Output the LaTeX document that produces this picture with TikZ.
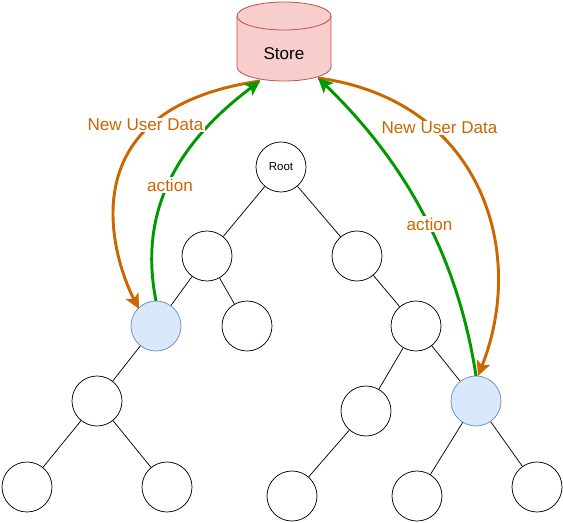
\documentclass[tikz,border=0pt]{standalone}
\usepackage{fontspec}
\setmainfont{Liberation Sans}
\usetikzlibrary{arrows.meta}
\definecolor{arrowor}{HTML}{CC6600}
\definecolor{arrowgr}{HTML}{009900}
\definecolor{storefill}{HTML}{F8CECC}
\definecolor{storeline}{HTML}{B85450}
\definecolor{userfill}{HTML}{DAE8FC}
\definecolor{userline}{HTML}{6C8EBF}
\tikzset{
  treenode/.style={circle,draw=black,fill=white,line width=0.55pt,minimum size=37.5pt,inner sep=0pt,font=\fontsize{8.6}{10}\selectfont},
  usernode/.style={treenode,draw=userline,fill=userfill},
  treeedge/.style={draw=black,line width=0.55pt},
  flow/.style={line width=2.2pt,-{Stealth[length=11pt,width=10.5pt,inset=2.5pt]}},
  orangeflow/.style={flow,draw=arrowor},
  greenflow/.style={flow,draw=arrowgr},
  flowlabel/.style={fill=white,inner sep=1pt,text=arrowor,font=\fontsize{12.8}{14}\selectfont},
}
\begin{document}
\begin{tikzpicture}[x=0.75pt,y=-0.75pt]
\useasboundingbox (0,0) rectangle (563,523);
\path[draw=storeline,fill=storefill,line width=0.6pt] (237,16) arc[x radius=47,y radius=14,start angle=180,end angle=360] -- (331,67) arc[x radius=47,y radius=14,start angle=0,end angle=180] -- cycle;
\draw[storeline,line width=0.6pt] (237,16) arc[x radius=47,y radius=14,start angle=180,end angle=0];
\node[font=\fontsize{12.8}{14}\selectfont] (store) at (284,54) {Store};
\node[treenode] (root) at (281,167) {Root};
\node[treenode] (a) at (207,256) {};
\node[treenode] (b) at (357,256) {};
\node[usernode] (c) at (156,326) {};
\node[treenode] (d) at (247,326) {};
\node[treenode] (e) at (416,326) {};
\node[treenode] (f) at (97,401) {};
\node[treenode] (g) at (366,411) {};
\node[usernode] (h) at (476,401) {};
\node[treenode] (i) at (27,487) {};
\node[treenode] (j) at (167,487) {};
\node[treenode] (k) at (292,496) {};
\node[treenode] (l) at (417,496) {};
\node[treenode] (m) at (537,487) {};
\foreach \u/\v in {root/a,root/b,a/c,a/d,c/f,f/i,f/j,b/e,e/g,e/h,g/k,h/l,h/m}
  \draw[treeedge] (\u) -- (\v);
\coordinate (sl) at (260,81);
\coordinate (sr) at (318,78);
\coordinate (cin) at (139,309);
\coordinate (hin) at (478,376);
\coordinate (cout) at (156,301);
\coordinate (hout) at (476,376);
\draw[orangeflow] (sl) .. controls (60,110) and (116,265) .. (cin);
\draw[orangeflow] (sr) .. controls (480,100) and (528,250) .. (hin);
\draw[greenflow] (cout) .. controls (140,220) and (168,150) .. (sl);
\draw[greenflow] (hout) .. controls (460,270) and (414,170) .. (sr);
\node[flowlabel] (nl) at (145.5,125) {New User Data};
\node[flowlabel] (nr) at (439.5,128) {New User Data};
\node[flowlabel] (al) at (170,185) {action};
\node[flowlabel] (ar) at (429.5,224) {action};
\end{tikzpicture}
\end{document}
